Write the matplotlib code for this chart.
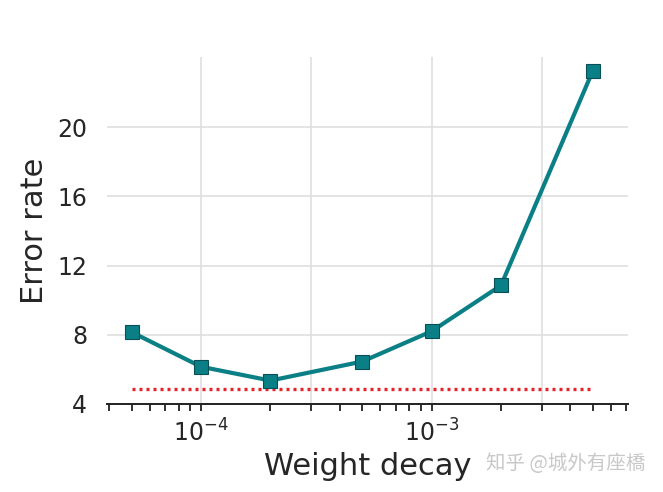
import matplotlib.pyplot as plt
from matplotlib.ticker import LogLocator, NullFormatter

# values
weight_decay = [5e-5, 1e-4, 2e-4, 5e-4, 1e-3, 2e-3, 5e-3]
error_rate = [8.15, 6.15, 5.35, 6.45, 8.2, 10.85, 23.25]
baseline = [4.85, 4.85]
baseline_x = [5e-5, 5e-3]

xticks = [1e-4, 3e-4, 1e-3, 3e-3]
xtick_labels = ["$10^{-4}$", "", "$10^{-3}$", ""]
yticks = [4, 8, 12, 16, 20]

TEAL = "#0b7f86"


def main():
    plt.rcParams["mathtext.fontset"] = "dejavusans"
    fig = plt.figure(figsize=(6.63, 4.92), dpi=100)
    ax = fig.add_axes([0.161, 0.179, 0.786, 0.705])

    ax.plot(weight_decay, error_rate, color=TEAL, lw=3, marker="s", ms=10,
            mfc=TEAL, mec="#0a4f55", mew=0.8, zorder=4)
    ax.plot(baseline_x, baseline, color="#e8222a", lw=2.4,
            linestyle=(0, (0.9, 1.2)), zorder=3)

    ax.set_xscale("log")
    ax.set_xlim(3.9e-5, 7.1e-3)
    ax.set_ylim(4, 24.05)

    ax.set_xticks(xticks)
    ax.set_xticklabels(xtick_labels)
    ax.xaxis.set_minor_locator(LogLocator(base=10, subs=range(2, 10), numticks=20))
    ax.xaxis.set_minor_formatter(NullFormatter())
    ax.set_yticks(yticks)

    ax.tick_params(axis="x", which="both", direction="out", length=5, width=1.3,
                   color="#222222", labelsize=17, pad=6, labelcolor="#262626")
    ax.tick_params(axis="y", length=0, labelsize=17, pad=14, labelcolor="#262626")

    for side in ("left", "right", "top"):
        ax.spines[side].set_visible(False)
    ax.spines["bottom"].set_color("#222222")
    ax.spines["bottom"].set_linewidth(1.4)

    ax.grid(True, which="major", color="#dddddd", lw=1.1, zorder=0)
    ax.set_axisbelow(True)

    ax.set_xlabel("Weight decay", fontsize=22, color="#262626", labelpad=4)
    ax.set_ylabel("Error rate", fontsize=22, color="#262626", labelpad=6)

    fig.text(0.973, 0.058, "知乎 @城外有座橋", ha="right", va="center",
             fontsize=14, color="#c8c8c8",
             family=["Noto Sans CJK TC", "DejaVu Sans"])

    fig.savefig("out.png", dpi=100)


if __name__ == "__main__":
    main()
